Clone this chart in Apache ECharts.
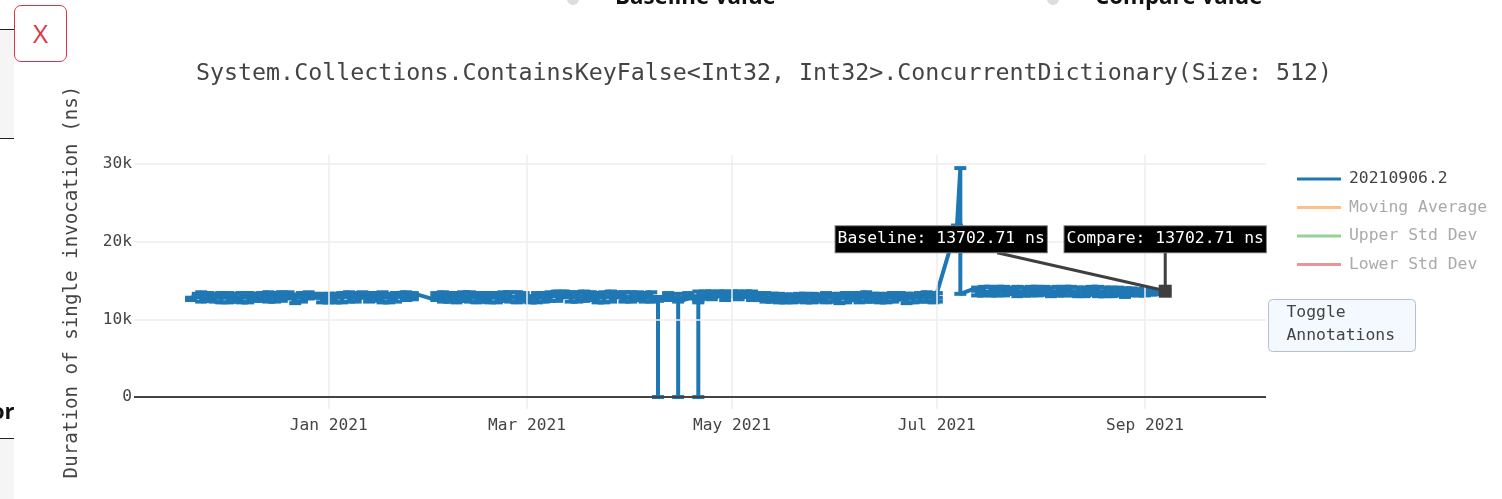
<!DOCTYPE html>
<html>
<head>
<meta charset="utf-8">
<title>ContainsKeyFalse</title>
<script src="https://cdn.jsdelivr.net/npm/echarts@6/dist/echarts.min.js"></script>
<style>
    html, body { margin: 0; padding: 0; background: #fff; overflow: hidden; }
    #chart { position: absolute; left: 0; top: 0; width: 1502px; height: 499px; }
    .side { position: absolute; left: 0; width: 14px; background: #f5f5f5; border-top: 1px solid #222; }
    .close { position: absolute; left: 14px; top: 5px; width: 51px; height: 55px; border: 1.5px solid #dc3545; border-radius: 7px;
        background: #fff; color: #dc3545; font: 26px/55px "Open Sans", sans-serif; text-align: center; }
    .head { position: absolute; top: -17px; font: bold 22.3px/26px "Open Sans", sans-serif; color: #111; white-space: nowrap; }
    .dot { position: absolute; top: -7px; width: 12px; height: 12px; border-radius: 50%; background: #ddd; }
</style>
</head>
<body>
<div id="chart"></div>
<div class="side" style="top:29px;height:108px;border-bottom:1px solid #222"></div>
<div class="side" style="top:438px;height:61px"></div>
<div style="position:absolute;left:-9px;top:396px;font:bold 22px/28px 'Open Sans',sans-serif;color:#111">or</div>
<div class="close">X</div>
<div class="dot" style="left:567px"></div>
<div class="head" style="left:615px">Baseline value</div>
<div class="dot" style="left:1047px"></div>
<div class="head" style="left:1095px">Compare value</div>
<script>
const chartTitle = 'System.Collections.ContainsKeyFalse<Int32, Int32>.ConcurrentDictionary(Size: 512)';
const yTitle = 'Duration of single invocation (ns)';

const buildDates = [
    '2020-11-21', '2020-11-23', '2020-11-24', '2020-11-26', '2020-11-28', '2020-11-30', '2020-12-02', '2020-12-04',
    '2020-12-06', '2020-12-08', '2020-12-10', '2020-12-12', '2020-12-14', '2020-12-16', '2020-12-18', '2020-12-20',
    '2020-12-22', '2020-12-24', '2020-12-26', '2020-12-28', '2020-12-30', '2021-01-01', '2021-01-03', '2021-01-05',
    '2021-01-07', '2021-01-09', '2021-01-11', '2021-01-13', '2021-01-15', '2021-01-17', '2021-01-19', '2021-01-21',
    '2021-01-24', '2021-01-26',
    '2021-02-02', '2021-02-04', '2021-02-06', '2021-02-08', '2021-02-10', '2021-02-12', '2021-02-14', '2021-02-16',
    '2021-02-18', '2021-02-20', '2021-02-22', '2021-02-24', '2021-02-26', '2021-02-28', '2021-03-02', '2021-03-04',
    '2021-03-06', '2021-03-08', '2021-03-10', '2021-03-12', '2021-03-14', '2021-03-16', '2021-03-18', '2021-03-20',
    '2021-03-22', '2021-03-24', '2021-03-26', '2021-03-28', '2021-03-30', '2021-04-01', '2021-04-03', '2021-04-05',
    '2021-04-07', '2021-04-09', '2021-04-09', '2021-04-09', '2021-04-12', '2021-04-15', '2021-04-15', '2021-04-15',
    '2021-04-18', '2021-04-21', '2021-04-21', '2021-04-21', '2021-04-23', '2021-04-25', '2021-04-27', '2021-04-29',
    '2021-05-01', '2021-05-03', '2021-05-05', '2021-05-07', '2021-05-09', '2021-05-11', '2021-05-13', '2021-05-15',
    '2021-05-17', '2021-05-19', '2021-05-21', '2021-05-23', '2021-05-25', '2021-05-27', '2021-05-29', '2021-05-31',
    '2021-06-02', '2021-06-04', '2021-06-06', '2021-06-08', '2021-06-10', '2021-06-12', '2021-06-14', '2021-06-16',
    '2021-06-18', '2021-06-20', '2021-06-22', '2021-06-24', '2021-06-26', '2021-06-28', '2021-06-30', '2021-07-01',
    '2021-07-07', '2021-07-08', '2021-07-08',
    '2021-07-13', '2021-07-15', '2021-07-17', '2021-07-19', '2021-07-21', '2021-07-23', '2021-07-25', '2021-07-27',
    '2021-07-29', '2021-07-31', '2021-08-02', '2021-08-04', '2021-08-06', '2021-08-08', '2021-08-10', '2021-08-12',
    '2021-08-14', '2021-08-16', '2021-08-18', '2021-08-20', '2021-08-22', '2021-08-24', '2021-08-26', '2021-08-28',
    '2021-08-30', '2021-09-01', '2021-09-03', '2021-09-05', '2021-09-07'
];
const firstRuns = [
    12500, 12900, 13500, 12400, 13300, 12200, 13400, 12300,
    13400, 12200, 13300, 12400, 13500, 12300, 13500, 12900,
    12100, 13400, 12800, 12800, 13300, 12200, 13300, 12200,
    13500, 13400, 12900, 12300, 13400, 13500, 12200, 12300,
    13500, 12600,
    12500, 13500, 12300, 13400, 12400, 13500, 12200, 13400,
    12200, 13400, 12400, 13500, 12200, 13400, 13000, 12200,
    13400, 12400, 13600, 12900, 13500, 12300, 13600, 12500,
    13400, 12200, 13600, 12900, 12300, 13500, 12500, 12300,
    13500, 12400, 0, 12900, 12500, 12500, 0, 13300,
    12700, 12200, 0, 13600, 12700, 13600, 13000, 13600,
    13400, 13600, 12900, 13600, 12500, 13400, 12300, 13300,
    12200, 13200, 12300, 13300, 12200, 13200, 13400, 12300,
    12100, 13400, 12500, 12200, 13500, 12300, 13300, 12200,
    13400, 12600, 12100, 13300, 12300, 13500, 12200, 12300,
    22100, 29500, 13300,
    14100, 13100, 14200, 13100, 14200, 13300, 13000, 14100,
    13100, 14200, 13200, 13000, 14200, 13100, 14200, 13000,
    14100, 13200, 14200, 13000, 14100, 13100, 12900, 14000,
    13900, 13100, 13800, 13300, 13702.71
];
const midRuns = [
    12600, 13100, 12900, 12800, 13000, 12800, 12900, 12700,
    12800, 12900, 12700, 13000, 12900, 12800, 13100, 12700,
    12800, 12900, 12700, 13100, 12800, 12700, 12800, 12900,
    13000, 12900, 12800, 12800, 13000, 12900, 12800, 12900,
    13000, 12900,
    12900, 12900, 12700, 12900, 13000, 12800, 12900, 12700,
    12900, 12800, 13000, 12800, 12900, 12700, 12800, 12800,
    12900, 13000, 13100, 13200, 12900, 13000, 12900, 13100,
    12800, 12900, 13000, 13100, 12800, 12900, 13000, 12800,
    12900, 12500, 0, 12900, 12900, 12600, 0, 12800,
    13000, 12400, 0, 13000, 13100, 13100, 13200, 13100,
    13000, 13200, 13100, 13000, 12900, 12800, 12700, 12800,
    12700, 12800, 12700, 12800, 12800, 12700, 12900, 12800,
    12800, 12800, 12900, 12800, 12900, 12800, 12700, 12800,
    12900, 12900, 12700, 12800, 12900, 12800, 12900, 12800,
    22100, 29500, 13300,
    13700, 13600, 13500, 13700, 13600, 13800, 13500, 13600,
    13700, 13500, 13800, 13600, 13500, 13700, 13600, 13500,
    13600, 13700, 13500, 13600, 13500, 13600, 13400, 13500,
    13600, 13500, 13500, 13600, 13702.71
];
const secondRuns = [
    12800, 13300, 12300, 13400, 12300, 13400, 12200, 13300,
    12200, 13400, 12400, 13400, 12300, 13400, 12400, 13500,
    13200, 12300, 13500, 13300, 12200, 13300, 12200, 13400,
    12300, 12300, 13500, 13400, 12400, 12200, 13300, 13400,
    12500, 13400,
    13400, 12300, 13400, 12200, 13500, 12300, 13400, 12300,
    13400, 12200, 13500, 12300, 13500, 12300, 12200, 13400,
    12300, 13500, 12400, 13600, 12300, 13500, 12400, 13500,
    12200, 13500, 12300, 13500, 13500, 12300, 13500, 13400,
    12300, 12500, 0, 12900, 13400, 12600, 0, 12300,
    13400, 12400, 0, 12500, 13600, 12600, 13600, 12500,
    13600, 12600, 13600, 12500, 13400, 12300, 13300, 12200,
    13200, 12200, 13300, 12200, 13300, 12300, 12200, 13300,
    13300, 12200, 13400, 13400, 12300, 13300, 12200, 13300,
    12300, 13400, 13300, 12200, 13400, 12300, 13400, 13400,
    22100, 29500, 13300,
    13100, 14200, 13100, 14200, 13100, 14100, 14200, 13100,
    14200, 13100, 14200, 14100, 13100, 14200, 13100, 14100,
    13000, 14200, 13000, 14100, 13000, 14100, 14000, 13100,
    13100, 14000, 13200, 13800, 13702.71
];
const baselineLabel = 'Baseline: 13702.71 ns';
const compareLabel = 'Compare: 13702.71 ns';
const comparePoint = ['2021-09-07', 13702.71];

const seriesNames = ['20210906.2', 'Moving Average', 'Upper Std Dev', 'Lower Std Dev'];
const xTicks = ['2021-01-01', '2021-03-01', '2021-05-01', '2021-07-01', '2021-09-01'];
const xTickLabels = ['Jan 2021', 'Mar 2021', 'May 2021', 'Jul 2021', 'Sep 2021'];
const yTicks = [0, 10000, 20000, 30000];
const yTickLabels = ['0', '10k', '20k', '30k'];

const mono = '"DejaVu Sans Mono", monospace';
const toTime = d => new Date(d + 'T00:00:00').getTime();
const xTickTimes = xTicks.map(toTime);

const runPoints = [];
buildDates.forEach((d, i) => {
    runPoints.push([toTime(d), firstRuns[i]]);
    if (midRuns[i] !== firstRuns[i]) {
        runPoints.push([toTime(d), midRuns[i]]);
    }
    if (secondRuns[i] !== midRuns[i]) {
        runPoints.push([toTime(d), secondRuns[i]]);
    }
});

function noMark(extra) {
    return Object.assign({ symbol: 'none', silent: true, label: { show: false } }, extra);
}

// plotly annotations: arrow to the point, box shifted by a fixed pixel offset
function drawAnnotations(params, api) {
    const p = api.coord([api.value(0), api.value(1)]);
    const box = (cx, text) => ({
        type: 'text',
        style: {
            x: p[0] + cx, y: p[1] - 51.5, text: text, align: 'center', verticalAlign: 'middle',
            fill: '#fff', font: '16.4px ' + mono,
            backgroundColor: '#000', borderColor: '#777', borderWidth: 1,
            padding: [5, 2, 5, 2]
        }
    });
    const stem = (dx) => ({
        type: 'line',
        shape: { x1: p[0] + dx, y1: p[1] - 38, x2: p[0], y2: p[1] },
        style: { stroke: '#3f3f3f', lineWidth: 3 }
    });
    return {
        type: 'group',
        children: [
            stem(0),
            stem(-168),
            {
                type: 'rect',
                shape: { x: p[0] - 6.5, y: p[1] - 6, width: 13, height: 13 },
                style: { fill: '#3f3f3f' }
            },
            box(-224, baselineLabel),
            box(0, compareLabel)
        ]
    };
}

const chart = echarts.init(document.getElementById('chart'));
chart.setOption({
    animation: false,
    backgroundColor: 'transparent',
    title: {
        text: chartTitle,
        left: 759,
        top: 57,
        textAlign: 'center',
        textStyle: { fontFamily: mono, fontSize: 23.3, fontWeight: 'normal', color: '#444' }
    },
    grid: { left: 134, right: 236, top: 155, height: 254 },
    legend: {
        left: 1292,
        top: 165,
        orient: 'vertical',
        itemWidth: 44,
        itemHeight: 3,
        itemGap: 10.5,
        icon: 'rect',
        textStyle: { fontFamily: mono, fontSize: 16.4, lineHeight: 18, padding: [0, 0, 0, 3] },
        selectedMode: false,
        data: [
            { name: seriesNames[0], textStyle: { color: '#444' } },
            { name: seriesNames[1], textStyle: { color: '#aaa' } },
            { name: seriesNames[2], textStyle: { color: '#aaa' } },
            { name: seriesNames[3], textStyle: { color: '#aaa' } }
        ]
    },
    xAxis: {
        type: 'value',
        min: toTime('2020-11-04'),
        max: toTime('2021-10-07'),
        axisLine: { show: false, onZero: false },
        axisTick: { show: false },
        splitLine: { show: false },
        axisLabel: {
            customValues: xTickTimes,
            margin: 9,
            color: '#444',
            fontFamily: mono,
            fontSize: 16.2,
            formatter: v => xTickLabels[xTickTimes.indexOf(+v)]
        }
    },
    yAxis: {
        type: 'value',
        min: -1540,
        max: 31190,
        name: yTitle,
        nameLocation: 'middle',
        nameGap: 52,
        nameTextStyle: { fontFamily: mono, fontSize: 19.2, color: '#444' },
        axisLine: { show: false },
        axisTick: { show: false },
        splitLine: { show: false },
        axisLabel: {
            customValues: yTicks,
            margin: 2,
            padding: [3, 0, 0, 0],
            color: '#444',
            fontFamily: mono,
            fontSize: 16.2,
            formatter: v => yTickLabels[yTicks.indexOf(v)]
        }
    },
    graphic: [{
        type: 'group',
        left: 1268,
        top: 299,
        children: [
            {
                type: 'rect',
                shape: { x: 0, y: 0, width: 147, height: 52, r: 4 },
                style: { fill: '#f4f8ff', stroke: '#b4bfd6', lineWidth: 1 }
            },
            {
                type: 'text',
                style: { x: 18, y: 2, text: 'Toggle\nAnnotations', fill: '#444', font: '16.4px ' + mono, lineHeight: 23 }
            }
        ]
    }],
    series: [
        {
            name: 'gridlines',
            type: 'line',
            data: [],
            z: 1,
            markLine: noMark({
                lineStyle: { color: '#eeeeee', width: 1.5, type: 'solid' },
                data: xTickTimes.map(t => ({ xAxis: t })).concat(yTicks.slice(1).map(v => ({ yAxis: v })))
            })
        },
        {
            name: 'zeroline',
            type: 'line',
            data: [],
            z: 1,
            markLine: noMark({
                lineStyle: { color: '#444', width: 2, type: 'solid' },
                data: [{ yAxis: 0 }]
            })
        },
        {
            name: seriesNames[0],
            type: 'line',
            data: runPoints,
            z: 3,
            color: '#1f77b4',
            lineStyle: { width: 4 },
            showSymbol: true,
            showAllSymbol: true,
            symbol: 'rect',
            symbolSize: [12, 4],
            itemStyle: { opacity: 1 }
        },
        { name: seriesNames[1], type: 'line', data: [], color: '#ffbf86', lineStyle: { width: 3 } },
        { name: seriesNames[2], type: 'line', data: [], color: '#96d296', lineStyle: { width: 3 } },
        { name: seriesNames[3], type: 'line', data: [], color: '#e99595', lineStyle: { width: 3 } },
        {
            name: 'annotations',
            type: 'custom',
            z: 5,
            clip: false,
            renderItem: drawAnnotations,
            encode: { x: 0, y: 1 },
            data: [[toTime(comparePoint[0]), comparePoint[1]]]
        }
    ]
});
</script>
</body>
</html>
